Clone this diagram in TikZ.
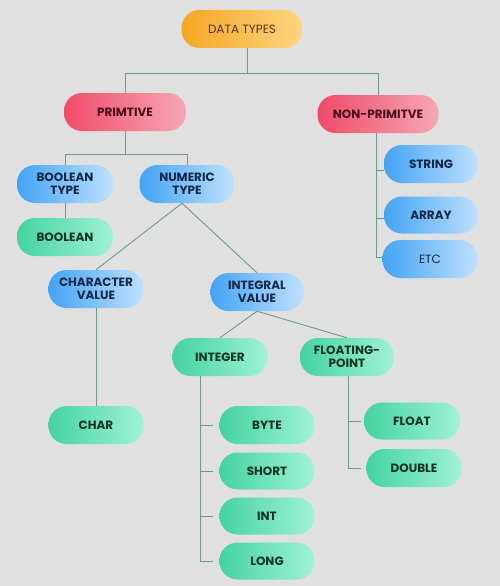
\documentclass[tikz,border=0pt]{standalone}
\usepackage{fontspec}
\setmainfont{Poppins}
\usetikzlibrary{calc}
\definecolor{bg}{HTML}{E0E0E0}
\definecolor{orA}{HTML}{F5A623}
\definecolor{orB}{HTML}{FDD581}
\definecolor{pkA}{HTML}{EF4B68}
\definecolor{pkB}{HTML}{F6A7B6}
\definecolor{blA}{HTML}{44A4F4}
\definecolor{blB}{HTML}{BFE0FF}
\definecolor{gnA}{HTML}{45D3A0}
\definecolor{gnB}{HTML}{A0F2D6}
\definecolor{txO}{HTML}{5A3210}
\definecolor{txP}{HTML}{4A0E1C}
\definecolor{txB}{HTML}{12284A}
\definecolor{txG}{HTML}{0C3326}
\definecolor{ln}{HTML}{6E9A8C}
\tikzset{
  pill/.style={rounded corners=18pt, minimum height=38pt, minimum width=95pt,
    inner sep=0pt, align=center, font=\fontsize{12}{13.3}\selectfont\bfseries},
  orbox/.style={pill, left color=orA, right color=orB, text=txO, minimum width=121pt, font=\fontsize{12}{13.3}\selectfont},
  pkbox/.style={pill, left color=pkA, right color=pkB, text=txP, minimum width=122pt},
  blbox/.style={pill, left color=blA, right color=blB, text=txB},
  gnbox/.style={pill, left color=gnA, right color=gnB, text=txG},
  conn/.style={draw=ln, line width=0.9pt}
}
\begin{document}
\begin{tikzpicture}[x=1pt,y=-1pt]
\fill[bg] (0,0) rectangle (500,586);
\useasboundingbox (0,0) rectangle (500,586);

\node[orbox] (dt) at (242,29) {DATA TYPES};
\node[pkbox] (prim) at (125,112) {PRIMTIVE};
\node[pkbox, minimum width=121pt] (np) at (378,114) {NON-PRIMITVE};

\node[blbox, minimum width=96pt] (bt) at (65,184) {BOOLEAN\\TYPE};
\node[blbox] (nt) at (187,184) {NUMERIC\\TYPE};
\node[gnbox, minimum width=96pt] (bool) at (65,237) {BOOLEAN};

\node[blbox, minimum width=94pt] (str) at (431,164) {STRING};
\node[blbox, minimum width=94pt, minimum height=37pt] (arr) at (431,215) {ARRAY};
\node[blbox, minimum width=95pt, font=\fontsize{12}{13.3}\selectfont] (etc) at (430,259) {ETC};

\node[blbox] (cv) at (96,289) {CHARACTER\\VALUE};
\node[blbox, minimum width=93pt] (iv) at (257,292) {INTEGRAL\\VALUE};

\node[gnbox] (char) at (96,425) {CHAR};
\node[gnbox] (integer) at (220,357) {INTEGER};
\node[gnbox, minimum width=94pt] (fp) at (347,357) {FLOATING-\\POINT};

\node[gnbox] (byte) at (267,425) {BYTE};
\node[gnbox, minimum height=37pt] (short) at (267,471) {SHORT};
\node[gnbox, minimum height=37pt] (int) at (267,516) {INT};
\node[gnbox, minimum height=37pt] (long) at (267,561) {LONG};

\node[gnbox, minimum height=37pt, minimum width=96pt] (float) at (412,421) {FLOAT};
\node[gnbox, minimum width=95pt] (double) at (414,468) {DOUBLE};

% connectors
\coordinate (dtb) at ([xshift=5pt]dt.south);
\draw[conn] (dtb) -- ++(0,25) -| (prim.north);
\draw[conn] (dtb) -- ++(0,25) -| (np.north);

\draw[conn] (prim.south) -- ++(0,23) -| (bt.north);
\draw[conn] (prim.south) -- ++(0,23) -| (nt.north);
\draw[conn] (bt.south) -- (bool.north);

\coordinate (npb) at ([xshift=-2pt]np.south);
\coordinate (s1) at ([yshift=-6pt]str.west);
\coordinate (s2) at ([yshift=-3pt]arr.west);
\coordinate (s3) at ([yshift=2pt]etc.west);
\draw[conn] (npb) |- (s3);
\draw[conn] (npb |- s1) -- (s1);
\draw[conn] (npb |- s2) -- (s2);

\coordinate (ntb) at ([xshift=-5pt]nt.south);
\draw[conn] (ntb) -- (cv.north);
\draw[conn] (ntb) -- (iv.north);
\draw[conn] (cv.south) -- (char.north);
\draw[conn] (iv.south) -- (integer.north);
\draw[conn] (iv.south) -- (fp.north);

\coordinate (ia) at ([xshift=-20pt]integer.south);
\draw[conn] (ia) |- ([xshift=-6pt]long.west);
\draw[conn] (ia |- byte.west) -- ([xshift=-6pt]byte.west);
\draw[conn] (ia |- short.west) -- ([xshift=-6pt]short.west);
\draw[conn] (ia |- int.west) -- ([xshift=-6pt]int.west);

\coordinate (fa) at ([xshift=1pt]fp.south);
\draw[conn] (fa) |- ([xshift=-5pt]double.west);
\draw[conn] (fa |- float.west) -- ([xshift=-3pt]float.west);
\end{tikzpicture}
\end{document}
